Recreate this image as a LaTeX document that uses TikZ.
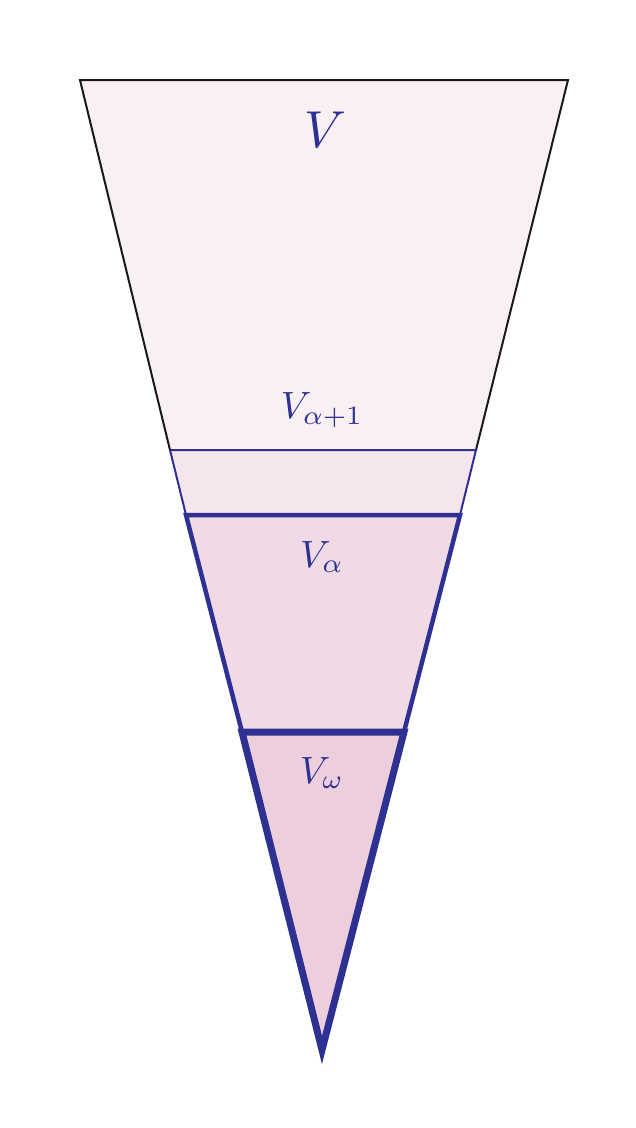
\documentclass[tikz,border=0pt]{standalone}
\begin{document}
\begin{tikzpicture}[x=1pt,y=-1pt,line join=miter,
  lab/.style={text=vb,inner sep=0pt}]
\definecolor{vb}{HTML}{2E3192}
\definecolor{c1}{HTML}{F9F0F4}
\definecolor{c2}{HTML}{F5E5EC}
\definecolor{c3}{HTML}{F0DAE5}
\definecolor{c4}{HTML}{ECCEDC}
\useasboundingbox (0,0) rectangle (636,1128);
\coordinate (TL) at (80,80); \coordinate (TR) at (568,80);
\fill[c1] (80,80) -- (568,80) -- (476,450) -- (170,450) -- cycle;
\fill[c2] (170,450) -- (476,450) -- (460,515) -- (186,515) -- cycle;
\fill[c3] (186,515) -- (460,515) -- (404,732) -- (242,732) -- cycle;
\draw[line width=2,black!90] (170,450) -- (TL) -- (TR) -- (476,450);
\draw[vb,line width=2] (170,450) -- (476,450) -- (460,515);
\draw[vb,line width=2] (170,450) -- (186,515);
\draw[vb,line width=4.5] (242,732) -- (186,515) -- (460,515) -- (404,732);
\draw[vb,line width=7,fill=c4,miter limit=20] (242,732) -- (404,732) -- (322,1050) -- cycle;
\node[lab,scale=5.2] (v) at (325,130) {$V$};
\node[lab,scale=3.8] (va1) at (322,410) {$V_{\alpha+1}$};
\node[lab,scale=3.8] (va) at (322,557) {$V_{\alpha}$};
\node[lab,scale=3.8] (vw) at (322,773) {$V_{\omega}$};
\end{tikzpicture}
\end{document}
